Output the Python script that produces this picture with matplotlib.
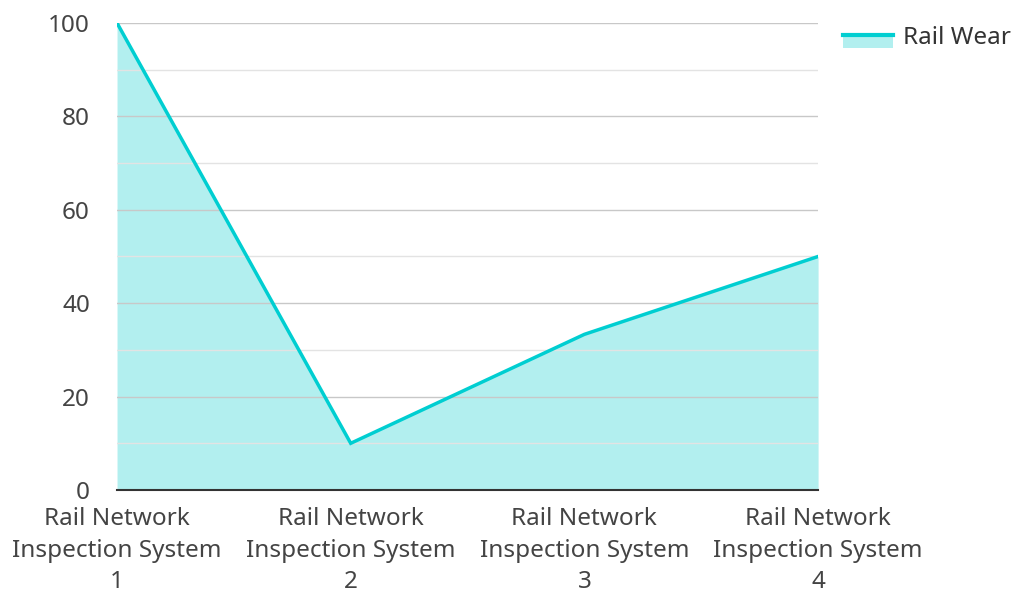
import matplotlib.pyplot as plt
from matplotlib.lines import Line2D
from matplotlib.patches import Patch, Rectangle

plt.rcParams['font.family'] = ['Noto Sans', 'DejaVu Sans']

categories = ['Rail Network\nInspection System\n1', 'Rail Network\nInspection System\n2',
              'Rail Network\nInspection System\n3', 'Rail Network\nInspection System\n4']
rail_wear = [100, 10, 33.33, 50]

line_color = '#00CED1'
fill_color = '#B2EFEF'


class AreaHandler:
    # legend key: filled box with the line along its top edge
    def legend_artist(self, legend, orig_handle, fontsize, handlebox):
        x0, y0 = handlebox.xdescent, handlebox.ydescent
        w, h = handlebox.width, handlebox.height
        top = y0 + h * 0.5
        rect = Rectangle((x0, y0 - h * 0.25), w, top - (y0 - h * 0.25), facecolor=fill_color,
                         edgecolor='none', transform=handlebox.get_transform())
        line = Line2D([x0, x0 + w], [top, top], color=line_color, linewidth=3,
                      transform=handlebox.get_transform())
        handlebox.add_artist(rect)
        handlebox.add_artist(line)
        return rect


fig = plt.figure(figsize=(10.15, 5.94), dpi=100)
ax = fig.add_axes([0.1153, 0.1751, 0.806 - 0.1153, 0.9613 - 0.1751])

x = range(len(categories))
ax.fill_between(x, rail_wear, 0, color=fill_color, linewidth=0, zorder=1)
ax.plot(x, rail_wear, color=line_color, linewidth=2.5, zorder=3, solid_joinstyle='miter')

ax.set_xlim(0, len(categories) - 1)
ax.set_ylim(0, 100)
ax.set_yticks(range(0, 101, 20))
ax.set_yticks(range(10, 100, 20), minor=True)
ax.grid(axis='y', which='major', color='#c8c8c8', linewidth=1, zorder=2)
ax.grid(axis='y', which='minor', color='#e3e3e3', linewidth=1, zorder=2)
ax.set_axisbelow(False)

ax.set_xticks(list(x))
ax.set_xticklabels(categories, linespacing=1.41)
ax.tick_params(axis='both', which='both', length=0, labelsize=17.5, labelcolor='#444444')
ax.tick_params(axis='y', pad=19.5)
ax.tick_params(axis='x', pad=12.5)

for side in ['left', 'right', 'top']:
    ax.spines[side].set_visible(False)
ax.spines['bottom'].set_color('#333333')
ax.spines['bottom'].set_linewidth(1.5)
ax.spines['bottom'].set_zorder(4)

handle = Patch(facecolor=fill_color)
leg = fig.legend([handle], ['Rail Wear'], loc='upper left', bbox_to_anchor=(0.8305, 0.957),
                 frameon=False, fontsize=17.5, handlelength=2.06, handletextpad=0.41,
                 borderpad=0, borderaxespad=0, labelcolor='#333333',
                 handler_map={Patch: AreaHandler()})

fig.savefig('out.png', dpi=100)
